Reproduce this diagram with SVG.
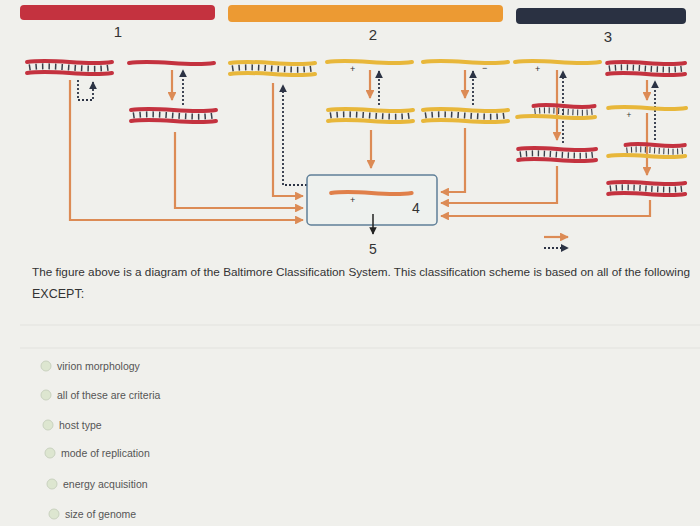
<svg xmlns="http://www.w3.org/2000/svg" width="700" height="526" viewBox="0 0 700 526">
<style>
.red{stroke:#c4323f}.yel{stroke:#e8b73a}.org{stroke:#e0804a}
.s{fill:none;stroke-width:4;stroke-linecap:round}
.rung{fill:none;stroke:#3a3f4a;stroke-width:6;stroke-dasharray:1.5 5}
.c{fill:none;stroke:#dc8b55;stroke-width:2.2}
.d{fill:none;stroke:#2c3344;stroke-width:1.8;stroke-dasharray:2 2}
.t{font-family:"Liberation Sans",Arial,sans-serif;fill:#333}
.o{font-family:"Liberation Sans",Arial,sans-serif;fill:#555;font-size:10.5px}
.rb{fill:#dde6d0;stroke:#c9d2bf;stroke-width:1}
</style>
<defs>
<path id="w" d="M0 0 C28 -4 57 4 85 0"/>
<path id="wr" d="M2 5.5 C28 1.5 57 9.5 83 5.5"/>
<marker id="ao" viewBox="0 0 10 10" refX="9" refY="5" markerWidth="4" markerHeight="4" orient="auto"><path d="M0 0L10 5L0 10z" fill="#dc8b55"/></marker>
<marker id="ad" viewBox="0 0 10 10" refX="9" refY="5" markerWidth="4.5" markerHeight="4.5" orient="auto"><path d="M0 0L10 5L0 10z" fill="#2c3344"/></marker>
<marker id="ak" viewBox="0 0 10 10" refX="9" refY="5" markerWidth="5" markerHeight="5" orient="auto"><path d="M0 0L10 5L0 10z" fill="#222"/></marker>
</defs>
<rect width="700" height="526" fill="#f0f0ec"/>
<rect x="20" y="5" width="195" height="15" rx="4" fill="#c4323f"/>
<rect x="228" y="5" width="275" height="17" rx="4" fill="#ec9a33"/>
<rect x="516" y="8" width="170" height="16" rx="4" fill="#2a3142"/>
<text class="t" x="118" y="37" font-size="15" text-anchor="middle">1</text>
<text class="t" x="373" y="40" font-size="15" text-anchor="middle">2</text>
<text class="t" x="608" y="42" font-size="15" text-anchor="middle">3</text>

<g id="connectors">
<path class="c" d="M70 80V220H303" marker-end="url(#ao)"/>
<path class="c" d="M175 132V208H303" marker-end="url(#ao)"/>
<path class="c" d="M273 83V196H303" marker-end="url(#ao)"/>
<path class="d" d="M307 185H283V85" marker-end="url(#ad)"/>
<path class="d" d="M78 80V100H93V82" marker-end="url(#ad)"/>
<path class="c" d="M172 70V100" marker-end="url(#ao)"/>
<path class="d" d="M183 105V70" marker-end="url(#ad)"/>
<path class="c" d="M370 70V98" marker-end="url(#ao)"/>
<path class="d" d="M379 105V71" marker-end="url(#ad)"/>
<path class="c" d="M371 130V168" marker-end="url(#ao)"/>
<path class="c" d="M465 70V98" marker-end="url(#ao)"/>
<path class="d" d="M473 105V71" marker-end="url(#ad)"/>
<path class="c" d="M465 128V192H441" marker-end="url(#ao)"/>
<path class="c" d="M557 70V140" marker-end="url(#ao)"/>
<path class="d" d="M563 143V71" marker-end="url(#ad)"/>
<path class="c" d="M557 166V203H441" marker-end="url(#ao)"/>
<path class="c" d="M647 80V100" marker-end="url(#ao)"/>
<path class="d" d="M655 140V81" marker-end="url(#ad)"/>
<path class="c" d="M647 113V175" marker-end="url(#ao)"/>
<path class="c" d="M650 200V216H441" marker-end="url(#ao)"/>
<path class="c" d="M544 237H568" marker-end="url(#ao)"/>
<path class="d" d="M544 248H568" marker-end="url(#ad)"/>
</g>

<g id="nA" transform="translate(27,62)"><use href="#wr" class="rung"/><use href="#w" class="s red"/><use href="#w" class="s red" y="11"/></g>
<g id="nB" transform="translate(129,63)"><use href="#w" class="s red"/></g>
<g id="nB2" transform="translate(131,110)"><use href="#wr" class="rung"/><use href="#w" class="s red"/><use href="#w" class="s red" y="11"/></g>
<g id="nC" transform="translate(230,63)"><use href="#wr" class="rung"/><use href="#w" class="s yel"/><use href="#w" class="s yel" y="11"/></g>
<g id="nD" transform="translate(327,62)"><use href="#w" class="s yel"/><text class="t" x="23" y="10" font-size="9">+</text></g>
<g id="nD2" transform="translate(328,110)"><use href="#wr" class="rung"/><use href="#w" class="s yel"/><use href="#w" class="s yel" y="11"/></g>
<g id="nE" transform="translate(423,62)"><use href="#w" class="s yel"/><text class="t" x="59" y="9" font-size="9">−</text></g>
<g id="nE2" transform="translate(423,110)"><use href="#wr" class="rung"/><use href="#w" class="s yel"/><use href="#w" class="s yel" y="11"/></g>
<g id="nF" transform="translate(515,62)"><use href="#w" class="s yel"/><text class="t" x="20" y="10" font-size="9">+</text></g>
<g id="nF2"><g transform="translate(533,106) scale(0.73,1)"><use href="#wr" class="rung"/><use href="#w" class="s red"/></g><g transform="translate(517,117) scale(0.92,1)"><use href="#w" class="s yel"/></g></g>
<g id="nF3" transform="translate(518,149) scale(0.92,1)"><use href="#wr" class="rung"/><use href="#w" class="s red"/><use href="#w" class="s red" y="11"/></g>
<g id="nG" transform="translate(607,63) scale(0.92,1)"><use href="#wr" class="rung"/><use href="#w" class="s red"/><use href="#w" class="s red" y="11"/></g>
<g id="nG2" transform="translate(608,108) scale(0.92,1)"><use href="#w" class="s yel"/><text class="t" x="20" y="10" font-size="9">+</text></g>
<g id="nG3"><g transform="translate(625,145) scale(0.71,1)"><use href="#wr" class="rung"/><use href="#w" class="s red"/></g><g transform="translate(608,156) scale(0.91,1)"><use href="#w" class="s yel"/></g></g>
<g id="nG4" transform="translate(608,183) scale(0.91,1)"><use href="#wr" class="rung"/><use href="#w" class="s red"/><use href="#w" class="s red" y="11"/></g>

<g id="box">
<rect x="307" y="175" width="130" height="50" rx="4" fill="#eef1ee" stroke="#5f7f98" stroke-width="1.5"/>
<g transform="translate(331,193) scale(0.95,1)"><use href="#w" class="s org"/></g>
<text class="t" x="350" y="203" font-size="9">+</text>
<text class="t" x="412" y="213" font-size="14">4</text>
</g>
<path stroke="#222" stroke-width="1.5" d="M373 214V234" marker-end="url(#ak)"/>
<text class="t" x="373" y="254" font-size="14" text-anchor="middle">5</text>

<text class="t" x="32" y="276" font-size="11.6" textLength="658" lengthAdjust="spacingAndGlyphs">The figure above is a diagram of the Baltimore Classification System. This classification scheme is based on all of the following</text>
<text class="t" x="32" y="298" font-size="12.5">EXCEPT:</text>
<path d="M20 325H700M20 348H700" stroke="#e2e2de" stroke-width="1"/>
<g id="opts">
<circle class="rb" cx="46" cy="366" r="5"/><text class="o" x="57" y="370">virion morphology</text>
<circle class="rb" cx="46" cy="395" r="5"/><text class="o" x="57" y="399">all of these are criteria</text>
<circle class="rb" cx="48" cy="425" r="5"/><text class="o" x="59" y="429">host type</text>
<circle class="rb" cx="50" cy="453" r="5"/><text class="o" x="61" y="457">mode of replication</text>
<circle class="rb" cx="52" cy="484" r="5"/><text class="o" x="63" y="488">energy acquisition</text>
<circle class="rb" cx="54" cy="514" r="5"/><text class="o" x="65" y="518">size of genome</text>
</g>
</svg>
